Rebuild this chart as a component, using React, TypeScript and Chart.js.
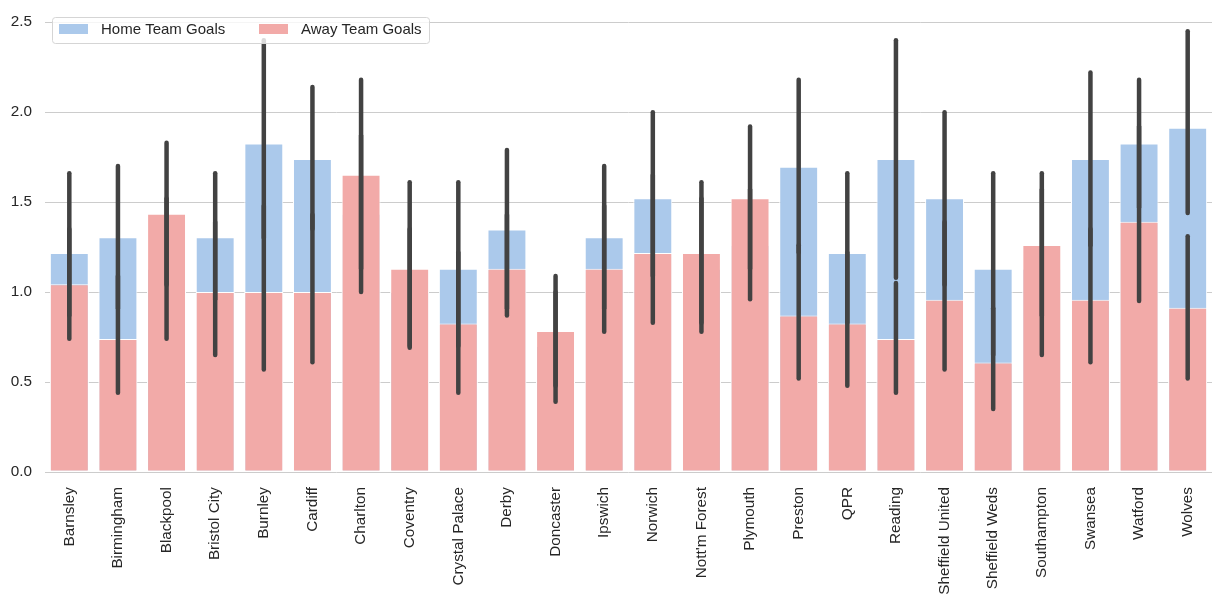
import React, { useEffect, useRef } from "react";
import { Chart, registerables } from "chart.js";

Chart.register(...registerables);

const teams = [
  "Barnsley", "Birmingham", "Blackpool", "Bristol City", "Burnley", "Cardiff",
  "Charlton", "Coventry", "Crystal Palace", "Derby", "Doncaster", "Ipswich",
  "Norwich", "Nott'm Forest", "Plymouth", "Preston", "QPR", "Reading",
  "Sheffield United", "Sheffield Weds", "Southampton", "Swansea", "Watford", "Wolves",
];

const homeGoals = [
  1.217, 1.304, 1.13, 1.304, 1.826, 1.739,
  1.435, 1.0, 1.13, 1.348, 0.7, 1.304,
  1.522, 1.13, 1.261, 1.696, 1.217, 1.739,
  1.522, 1.13, 1.13, 1.739, 1.826, 1.913,
];

const awayGoals = [
  1.043, 0.739, 1.435, 1.0, 1.0, 1.0,
  1.652, 1.13, 0.826, 1.13, 0.783, 1.13,
  1.217, 1.217, 1.522, 0.87, 0.826, 0.739,
  0.957, 0.609, 1.261, 0.957, 1.391, 0.913,
];

const homeLow = [
  0.87, 0.91, 0.74, 0.96, 1.30, 1.35,
  1.0, 0.69, 0.70, 0.91, 0.39, 0.91,
  1.09, 0.78, 0.96, 1.22, 0.83, 1.08,
  1.04, 0.65, 0.65, 1.26, 1.47, 1.44,
];
const homeHigh = [
  1.66, 1.70, 1.52, 1.66, 2.40, 2.14,
  1.87, 1.35, 1.61, 1.79, 1.0, 1.70,
  2.0, 1.52, 1.57, 2.18, 1.66, 2.40,
  2.0, 1.66, 1.57, 2.22, 2.18, 2.45,
];
const awayLow = [
  0.74, 0.44, 1.04, 0.65, 0.57, 0.61,
  1.13, 0.70, 0.44, 0.87, 0.48, 0.78,
  0.83, 0.83, 1.13, 0.52, 0.48, 0.44,
  0.57, 0.35, 0.87, 0.61, 0.95, 0.52,
];
const awayHigh = [
  1.35, 1.09, 1.83, 1.39, 1.48, 1.43,
  2.18, 1.61, 1.22, 1.43, 1.09, 1.48,
  1.65, 1.61, 1.92, 1.26, 1.22, 1.05,
  1.39, 0.91, 1.66, 1.35, 1.92, 1.31,
];

const yTickValues = [0, 0.5, 1.0, 1.5, 2.0, 2.5];

const BLUE = "#abc9eb";
const RED = "#f2aaa8";
const TEXT = "#262626";
const FONT = "'Liberation Sans', Arial, sans-serif";

const errorBarPlugin = {
  id: "errorBars",
  afterDatasetsDraw(chart: any) {
    const ctx = chart.ctx;
    const xs = chart.scales.x;
    const ys = chart.scales.y;
    ctx.save();
    ctx.strokeStyle = "#424242";
    ctx.lineWidth = 4.5;
    ctx.lineCap = "round";
    const draw = (lo: number[], hi: number[]) => {
      for (let i = 0; i < teams.length; i++) {
        const px = xs.getPixelForValue(i);
        ctx.beginPath();
        ctx.moveTo(px, ys.getPixelForValue(lo[i]));
        ctx.lineTo(px, ys.getPixelForValue(hi[i]));
        ctx.stroke();
      }
    };
    draw(homeLow, homeHigh);
    draw(awayLow, awayHigh);
    ctx.restore();
  },
};

const legendPlugin = {
  id: "insideLegend",
  afterDraw(chart: any) {
    const ctx = chart.ctx;
    ctx.save();
    const x = 52.5, y = 17.5, w = 377, h = 26, r = 3;
    ctx.beginPath();
    ctx.roundRect(x, y, w, h, r);
    ctx.fillStyle = "rgba(255,255,255,0.8)";
    ctx.fill();
    ctx.strokeStyle = "#d5d5d5";
    ctx.lineWidth = 1;
    ctx.stroke();
    const items = [
      { label: "Home Team Goals", color: BLUE, px: 59, tx: 101 },
      { label: "Away Team Goals", color: RED, px: 259, tx: 301 },
    ];
    ctx.font = `15px ${FONT}`;
    ctx.textBaseline = "middle";
    ctx.textAlign = "left";
    for (const it of items) {
      ctx.fillStyle = it.color;
      ctx.fillRect(it.px, 24, 29, 10);
      ctx.fillStyle = TEXT;
      ctx.fillText(it.label, it.tx, 30);
    }
    ctx.restore();
  },
};

export default function App() {
  const ref = useRef<HTMLCanvasElement | null>(null);

  useEffect(() => {
    if (!ref.current) return;
    const chart = new Chart(ref.current, {
      type: "bar",
      data: {
        labels: teams,
        datasets: [
          {
            label: "Home Team Goals",
            data: homeGoals,
            backgroundColor: BLUE,
            borderColor: "#ffffff",
            borderWidth: 1,
            borderSkipped: false,
            order: 2,
            grouped: false,
            categoryPercentage: 0.8,
            barPercentage: 1,
          } as any,
          {
            label: "Away Team Goals",
            data: awayGoals,
            backgroundColor: RED,
            borderColor: "#ffffff",
            borderWidth: 1,
            borderSkipped: false,
            order: 1,
            grouped: false,
            categoryPercentage: 0.8,
            barPercentage: 1,
          } as any,
        ],
      },
      options: {
        animation: false,
        responsive: false,
        layout: { padding: { top: 18, right: 4, left: 0, bottom: 0 } },
        plugins: { legend: { display: false }, tooltip: { enabled: false } },
        scales: {
          x: {
            grid: { display: false },
            border: { display: false },
            ticks: {
              autoSkip: false,
              maxRotation: 90,
              minRotation: 90,
              padding: 7,
              color: TEXT,
              font: { family: FONT, size: 15.3 },
            },
            afterFit: (s: any) => {
              s.height = 130;
            },
          },
          y: {
            min: 0,
            max: 2.5,
            afterBuildTicks: (s: any) => {
              s.ticks = yTickValues.map((v) => ({ value: v }));
            },
            ticks: {
              padding: 13,
              color: TEXT,
              font: { family: FONT, size: 15.3 },
              callback: (v: any) => Number(v).toFixed(1),
            },
            grid: { color: "#cccccc", lineWidth: 1, drawTicks: false },
            border: { display: false },
            afterFit: (s: any) => {
              s.width = 45;
            },
          },
        },
      } as any,
      plugins: [errorBarPlugin, legendPlugin],
    });
    return () => chart.destroy();
  }, []);

  return (
    <div style={{ position: "fixed", left: 0, top: 0, width: 1216, height: 602, background: "#fff" }}>
      <canvas ref={ref} width={1216} height={602} style={{ display: "block", width: 1216, height: 602 }} />
    </div>
  );
}
